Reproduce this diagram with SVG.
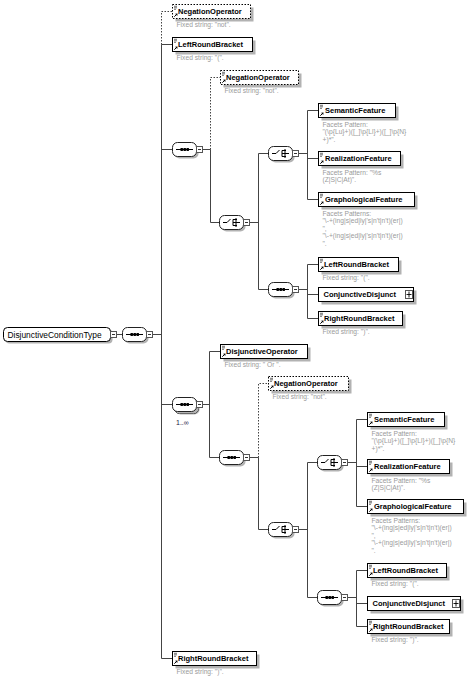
<svg xmlns="http://www.w3.org/2000/svg" width="474" height="680" viewBox="0 0 474 680">
<style>
.sh{fill:#b2b2b2}
.bx{fill:#fff;stroke:#000;stroke-width:1}
.opt{stroke-dasharray:1.5,1.5}
.nm{font-family:"Liberation Sans",Arial,sans-serif;font-size:7.5px;font-weight:bold;fill:#000}
.rt{font-family:"Liberation Sans",Arial,sans-serif;font-size:8.4px;fill:#000}
.nt{font-family:"Liberation Sans",Arial,sans-serif;font-size:6.7px;fill:#9a9a9a}
.oc{font-family:"Liberation Sans",Arial,sans-serif;font-size:7px;fill:#1a1a40}
.cn{fill:none;stroke:#444;stroke-width:1}
.dl{stroke-dasharray:1.5,1.5}
.cmp{fill:#fff;stroke:#222;stroke-width:1}
.mb{fill:#fff;stroke:#555;stroke-width:1}
.ink{fill:none;stroke:#000;stroke-width:1}
</style>
<defs>
<g id="ico">
<path d="M1.5 1.8h3M1.5 3.3h3M1.5 4.8h2" stroke="#333" stroke-width="0.7" fill="none"/>
<path d="M1.8 12.2L4.2 9.8" stroke="#000" stroke-width="1" fill="none"/>
<path d="M2.6 9.2L5 9L4.8 11.4Z" fill="#000"/>
</g>
<g id="minus">
<rect x="0" y="-3" width="6" height="6" class="mb"/>
<path d="M1.5 0h3" stroke="#000" stroke-width="0.8"/>
</g>
<g id="seq">
<rect x="2" y="-5" width="24" height="14" rx="5" class="sh"/>
<rect x="0" y="-7" width="24" height="14" rx="5" class="cmp"/>
<path d="M3.5 0H20.5" stroke="#000" stroke-width="1"/>
<rect x="8" y="-1.5" width="2.4" height="3" fill="#000"/>
<rect x="11" y="-1.5" width="2.4" height="3" fill="#000"/>
<rect x="14" y="-1.5" width="2.4" height="3" fill="#000"/>
<use href="#minus" x="24"/>
</g>
<g id="choice">
<rect x="2" y="-5" width="24" height="14" rx="5" class="sh"/>
<rect x="0" y="-7" width="24" height="14" rx="5" class="cmp"/>
<path d="M3.5 0H7.5L11 -3.5M13.5 -3V3M13.5 -3H15.5M13.5 0H20.5M13.5 3H15.5" stroke="#000" stroke-width="1" fill="none"/>
<rect x="15.5" y="-4" width="2" height="2" fill="#000"/>
<rect x="15.5" y="-1" width="2" height="2" fill="#000"/>
<rect x="15.5" y="2" width="2" height="2" fill="#000"/>
<use href="#minus" x="24"/>
</g>
</defs>

<g id="connectors">
<path class="cn" d="M116.5 334.5H122.5M152.5 334.5H161.5M161.5 44.5V658.5H172.5M161.5 44.5H172.5M161.5 149.5H172.5M161.5 404.5H172.5"/>
<path class="cn dl" d="M161.5 44.5V11.5H172.5"/>
<path class="cn" d="M202.5 149.5H210.5V222.5H219.5"/>
<path class="cn dl" d="M210.5 149.5V77.5H220.5"/>
<path class="cn" d="M249.5 222.5H258.5M258.5 153.5V289.5H268.5M258.5 153.5H268.5"/>
<path class="cn" d="M298.5 153.5H307.5M307.5 110.5V199.5H318.5M307.5 110.5H318.5M307.5 158.5H318.5"/>
<path class="cn" d="M298.5 289.5H307.5M307.5 264.5V318.5H318.5M307.5 264.5H318.5M307.5 294.5H318.5"/>
<path class="cn" d="M202.5 404.5H209.5M209.5 351.5V457.5H219.5M209.5 351.5H220.5"/>
<path class="cn" d="M249.5 457.5H258.5V529.5H268.5"/>
<path class="cn dl" d="M258.5 457.5V383.5H268.5"/>
<path class="cn" d="M298.5 529.5H307.5M307.5 462.5V597.5H317.5M307.5 462.5H317.5"/>
<path class="cn" d="M347.5 462.5H356.5M356.5 419.5V506.5H367.5M356.5 419.5H367.5M356.5 466.5H367.5"/>
<path class="cn" d="M347.5 597.5H356.5M356.5 570.5V626.5H367.5M356.5 570.5H367.5M356.5 603.5H367.5"/>
</g>

<g id="root">
<rect x="5.5" y="329.5" width="107" height="14" rx="4" class="sh"/>
<rect x="3.5" y="327.5" width="107" height="14" rx="4" class="bx"/>
<text x="7.5" y="337.5" class="rt">DisjunctiveConditionType</text>
<use href="#minus" x="110.5" y="334.5"/>
</g>

<g id="seq-root"><use href="#seq" x="122.5" y="334.5"/></g>
<g id="seq1"><use href="#seq" x="172.5" y="149.5"/></g>
<g id="choiceA"><use href="#choice" x="219.5" y="222.5"/></g>
<g id="choiceB"><use href="#choice" x="268.5" y="153.5"/></g>
<g id="seqC"><use href="#seq" x="268.5" y="289.5"/></g>
<g id="seq2">
<rect x="175.5" y="400.5" width="24" height="14" rx="5" class="sh"/>
<rect x="174.5" y="399.5" width="24" height="14" rx="5" class="cmp"/>
<use href="#seq" x="172.5" y="404.5"/>
<text x="176" y="425" class="oc">1..∞</text>
</g>
<g id="seqD"><use href="#seq" x="219.5" y="457.5"/></g>
<g id="choiceE"><use href="#choice" x="268.5" y="529.5"/></g>
<g id="choiceF"><use href="#choice" x="317.5" y="462.5"/></g>
<g id="seqG"><use href="#seq" x="317.5" y="597.5"/></g>

<g id="neg1">
<rect x="175.5" y="7.5" width="78" height="14" class="sh"/>
<rect x="172.5" y="4.5" width="78" height="14" class="bx opt"/>
<use href="#ico" x="172.5" y="4.5"/>
<text x="178" y="14.3" class="nm">NegationOperator</text>
<text x="176.5" y="27" class="nt">Fixed string: "not".</text>
</g>
<g id="lrb1">
<rect x="175.5" y="40.5" width="80" height="14" class="sh"/>
<rect x="172.5" y="37.5" width="80" height="14" class="bx"/>
<use href="#ico" x="172.5" y="37.5"/>
<text x="178" y="47.3" class="nm">LeftRoundBracket</text>
<text x="176.5" y="60" class="nt">Fixed string: "(".</text>
</g>
<g id="neg2">
<rect x="223.5" y="73.5" width="78" height="14" class="sh"/>
<rect x="220.5" y="70.5" width="78" height="14" class="bx opt"/>
<use href="#ico" x="220.5" y="70.5"/>
<text x="226" y="80.3" class="nm">NegationOperator</text>
<text x="224.5" y="93" class="nt">Fixed string: "not".</text>
</g>
<g id="sem1">
<rect x="321.5" y="106.5" width="77" height="14" class="sh"/>
<rect x="318.5" y="103.5" width="77" height="14" class="bx"/>
<use href="#ico" x="318.5" y="103.5"/>
<text x="325" y="113.3" class="nm">SemanticFeature</text>
<text x="322.5" y="126.5" class="nt">Facets Pattern:</text>
<text x="322.5" y="134" class="nt">"(\p{Lu}+)([_]\p{Ll}+)([_]\p{N}</text>
<text x="322.5" y="141.5" class="nt">+)*".</text>
</g>
<g id="real1">
<rect x="321.5" y="154.5" width="82" height="14" class="sh"/>
<rect x="318.5" y="151.5" width="82" height="14" class="bx"/>
<use href="#ico" x="318.5" y="151.5"/>
<text x="325" y="161.3" class="nm">RealizationFeature</text>
<text x="322.5" y="174.5" class="nt">Facets Pattern: "%s</text>
<text x="322.5" y="182" class="nt">(Z|S|C|At)".</text>
</g>
<g id="graph1">
<rect x="321.5" y="195.5" width="96" height="14" class="sh"/>
<rect x="318.5" y="192.5" width="96" height="14" class="bx"/>
<use href="#ico" x="318.5" y="192.5"/>
<text x="325" y="202.3" class="nm">GraphologicalFeature</text>
<text x="322.5" y="215.5" class="nt">Facets Patterns:</text>
<text x="322.5" y="223" class="nt">"\-+(ing|s|ed|ly|'s|n't|n't)(er|)</text>
<text x="322.5" y="230.5" class="nt">",</text>
<text x="322.5" y="238" class="nt">"\-+(ing|s|ed|ly|'s|n't|n't)(er|)</text>
<text x="322.5" y="245.5" class="nt">".</text>
</g>
<g id="lrb2">
<rect x="321.5" y="260.5" width="80" height="14" class="sh"/>
<rect x="318.5" y="257.5" width="80" height="14" class="bx"/>
<use href="#ico" x="318.5" y="257.5"/>
<text x="324" y="267.3" class="nm">LeftRoundBracket</text>
<text x="322.5" y="280" class="nt">Fixed string: "(".</text>
</g>
<g id="cd1">
<rect x="321.5" y="290.5" width="95" height="14" class="sh"/>
<rect x="318.5" y="287.5" width="95" height="14" class="bx"/>
<text x="323.5" y="297.3" class="nm">ConjunctiveDisjunct</text>
<rect x="405.5" y="290.5" width="7" height="8" class="mb"/>
<path d="M406.5 294.5h5M409 291.5v6" stroke="#000" stroke-width="0.9"/>
</g>
<g id="rrb2">
<rect x="321.5" y="314.5" width="84" height="14" class="sh"/>
<rect x="318.5" y="311.5" width="84" height="14" class="bx"/>
<use href="#ico" x="318.5" y="311.5"/>
<text x="324" y="321.3" class="nm">RightRoundBracket</text>
<text x="322.5" y="334" class="nt">Fixed string: ")".</text>
</g>
<g id="disjop">
<rect x="223.5" y="347.5" width="87" height="14" class="sh"/>
<rect x="220.5" y="344.5" width="87" height="14" class="bx"/>
<use href="#ico" x="220.5" y="344.5"/>
<text x="226" y="354.3" class="nm">DisjunctiveOperator</text>
<text x="224.5" y="367" class="nt">Fixed string: " Or ".</text>
</g>
<g id="neg3">
<rect x="271.5" y="379.5" width="80" height="14" class="sh"/>
<rect x="268.5" y="376.5" width="80" height="14" class="bx opt"/>
<use href="#ico" x="268.5" y="376.5"/>
<text x="274" y="386.3" class="nm">NegationOperator</text>
<text x="272.5" y="399" class="nt">Fixed string: "not".</text>
</g>
<g id="sem2">
<rect x="370.5" y="415.5" width="77" height="14" class="sh"/>
<rect x="367.5" y="412.5" width="77" height="14" class="bx"/>
<use href="#ico" x="367.5" y="412.5"/>
<text x="374" y="422.3" class="nm">SemanticFeature</text>
<text x="371.5" y="435.5" class="nt">Facets Pattern:</text>
<text x="371.5" y="443" class="nt">"(\p{Lu}+)([_]\p{Ll}+)([_]\p{N}</text>
<text x="371.5" y="450.5" class="nt">+)*".</text>
</g>
<g id="real2">
<rect x="370.5" y="462.5" width="82" height="14" class="sh"/>
<rect x="367.5" y="459.5" width="82" height="14" class="bx"/>
<use href="#ico" x="367.5" y="459.5"/>
<text x="374" y="469.3" class="nm">RealizationFeature</text>
<text x="371.5" y="482.5" class="nt">Facets Pattern: "%s</text>
<text x="371.5" y="490" class="nt">(Z|S|C|At)".</text>
</g>
<g id="graph2">
<rect x="370.5" y="502.5" width="96" height="14" class="sh"/>
<rect x="367.5" y="499.5" width="96" height="14" class="bx"/>
<use href="#ico" x="367.5" y="499.5"/>
<text x="374" y="509.3" class="nm">GraphologicalFeature</text>
<text x="371.5" y="522.5" class="nt">Facets Patterns:</text>
<text x="371.5" y="530" class="nt">"\-+(ing|s|ed|ly|'s|n't|n't)(er|)</text>
<text x="371.5" y="537.5" class="nt">",</text>
<text x="371.5" y="545" class="nt">"\-+(ing|s|ed|ly|'s|n't|n't)(er|)</text>
<text x="371.5" y="552.5" class="nt">".</text>
</g>
<g id="lrb3">
<rect x="370.5" y="566.5" width="79" height="14" class="sh"/>
<rect x="367.5" y="563.5" width="79" height="14" class="bx"/>
<use href="#ico" x="367.5" y="563.5"/>
<text x="373" y="573.3" class="nm">LeftRoundBracket</text>
<text x="371.5" y="586" class="nt">Fixed string: "(".</text>
</g>
<g id="cd2">
<rect x="370.5" y="599.5" width="93" height="14" class="sh"/>
<rect x="367.5" y="596.5" width="93" height="14" class="bx"/>
<text x="372.5" y="606.3" class="nm">ConjunctiveDisjunct</text>
<rect x="452.5" y="599.5" width="7" height="8" class="mb"/>
<path d="M453.5 603.5h5M456 600.5v6" stroke="#000" stroke-width="0.9"/>
</g>
<g id="rrb3">
<rect x="370.5" y="622.5" width="82" height="14" class="sh"/>
<rect x="367.5" y="619.5" width="82" height="14" class="bx"/>
<use href="#ico" x="367.5" y="619.5"/>
<text x="373" y="629.3" class="nm">RightRoundBracket</text>
<text x="371.5" y="642" class="nt">Fixed string: ")".</text>
</g>
<g id="rrb1">
<rect x="175.5" y="654.5" width="84" height="14" class="sh"/>
<rect x="172.5" y="651.5" width="84" height="14" class="bx"/>
<use href="#ico" x="172.5" y="651.5"/>
<text x="178" y="661.3" class="nm">RightRoundBracket</text>
<text x="176.5" y="674" class="nt">Fixed string: ")".</text>
</g>
</svg>
